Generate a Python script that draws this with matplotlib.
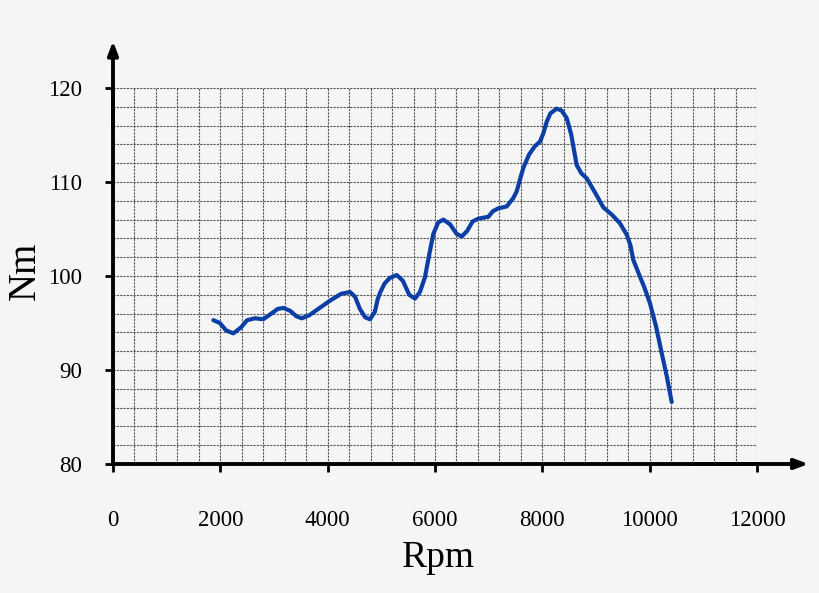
import matplotlib
matplotlib.use("Agg")
import matplotlib.pyplot as plt
from matplotlib.ticker import MultipleLocator

rpm = [1870, 1990, 2110, 2242, 2380, 2500, 2646, 2801, 2950, 3070, 3174, 3300, 3420,
       3516, 3650, 3850, 4050, 4250, 4416, 4510, 4600, 4700, 4789, 4880, 4930, 4975,
       5060, 5160, 5287, 5400, 5520, 5627, 5720, 5814, 5900, 5970, 6060, 6156, 6280,
       6400, 6497, 6600, 6700, 6808, 6995, 7080, 7181, 7336, 7460, 7522, 7580, 7646,
       7750, 7860, 7957, 8020, 8081, 8150, 8267, 8360, 8454, 8540, 8640, 8730, 8826,
       8980, 9137, 9300, 9447, 9572, 9640, 9696, 9800, 9900, 10006, 10120, 10224,
       10320, 10410]
nm = [95.3, 95.0, 94.2, 93.9, 94.5, 95.3, 95.5, 95.4, 96.0, 96.5, 96.6, 96.3, 95.7,
      95.5, 95.8, 96.6, 97.4, 98.1, 98.3, 97.8, 96.5, 95.6, 95.4, 96.2, 97.5, 98.2,
      99.2, 99.8, 100.1, 99.5, 98.0, 97.6, 98.3, 99.9, 102.5, 104.5, 105.7, 106.0,
      105.5, 104.5, 104.2, 104.8, 105.8, 106.1, 106.3, 106.9, 107.2, 107.4, 108.3,
      109.0, 110.2, 111.5, 112.9, 113.8, 114.3, 115.2, 116.4, 117.3, 117.8, 117.6,
      116.8, 115.0, 111.8, 110.9, 110.4, 108.9, 107.3, 106.5, 105.6, 104.4, 103.3,
      101.7, 100.2, 98.8, 97.1, 94.6, 91.8, 89.3, 86.6]

xticks = [0, 2000, 4000, 6000, 8000, 10000, 12000]
yticks = [80, 90, 100, 110, 120]

bg = "#f5f5f5"
plt.rcParams['font.family'] = ['Liberation Serif', 'DejaVu Serif']

fig = plt.figure(figsize=(8.2, 5.93), dpi=100, facecolor=bg)
ax = fig.add_axes([113/820, 1-464/593, (757-113)/820, (464-88)/593])
ax.set_facecolor(bg)

ax.set_xlim(0, 12000)
ax.set_ylim(80, 120)
ax.set_xticks(xticks)
ax.set_yticks(yticks)
ax.xaxis.set_minor_locator(MultipleLocator(400))
ax.yaxis.set_minor_locator(MultipleLocator(2))

ax.grid(which='both', color='#555555', linestyle=(0, (2, 1)), linewidth=0.8)
ax.set_axisbelow(True)

for s in ['top', 'right']:
    ax.spines[s].set_visible(False)
for s in ['left', 'bottom']:
    ax.spines[s].set_linewidth(2.8)
    ax.spines[s].set_color('black')
    ax.spines[s].set_capstyle('projecting')

ax.tick_params(which='major', direction='out', length=6, width=2, labelsize=16.5,
               colors='black')
ax.tick_params(axis='x', which='major', pad=27)
ax.tick_params(axis='y', which='major', pad=16)
ax.tick_params(which='minor', length=0)

ax.plot(rpm, nm, color='#0b3fa6', linewidth=3.0, solid_joinstyle='round',
        solid_capstyle='round', zorder=3)

# axis arrows
ax.annotate('', xy=(0, 1.125), xytext=(0, 0.9), xycoords='axes fraction',
            arrowprops=dict(arrowstyle='-|>,head_length=0.8,head_width=0.3',
                            color='black', lw=2.8, shrinkA=0, shrinkB=0),
            annotation_clip=False)
ax.annotate('', xy=(1.08, 0), xytext=(0.9, 0), xycoords='axes fraction',
            arrowprops=dict(arrowstyle='-|>,head_length=0.8,head_width=0.3',
                            color='black', lw=2.8, shrinkA=0, shrinkB=0),
            annotation_clip=False)

fig.text(438/820, 1-558/593, 'Rpm', fontsize=27, ha='center', va='center')
fig.text(25/820, 1-271/593, 'Nm', fontsize=28, ha='center', va='center',
         rotation=90)

fig.savefig('out.png', dpi=100, facecolor=bg)
